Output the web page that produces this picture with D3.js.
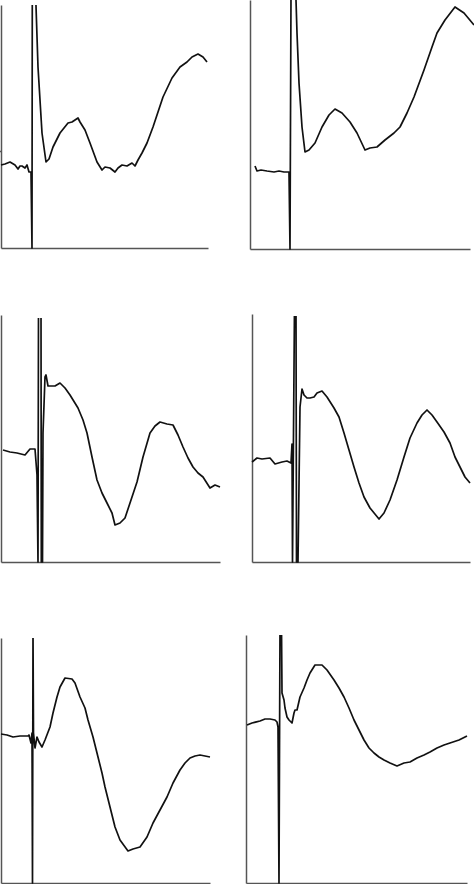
<!DOCTYPE html>
<head>
  <meta charset="utf-8">
  <script src="https://cdnjs.cloudflare.com/ajax/libs/d3/7.8.5/d3.min.js"></script>
</head>

<style>
body {
  margin: 0;
  background-color: #fff;
}
svg {
  display: block;
}
.trace {
  fill: none;
  stroke: #111;
  stroke-width: 1.7px;
  stroke-linejoin: round;
}
.axis path, .axis line {
  stroke: #555;
  stroke-width: 1.5px;
}
</style>

<body>
  <svg id='chart' width='474' height='884'></svg>
</body>

<script>

// time in ms (stimulus at 0), amplitude in uV (pre-stimulus baseline at 0)
var trace1 = [[-31,0.1],[-27,0.2],[-22,0.4],[-17,0.1],[-14,-0.3],[-12,0],[-10,0],[-7,-0.2],[-5,0.1],[-3,-0.6],[-1,-0.6],
  [0,-8.2],[0.3,17.5],[3.5,17.5],[4,16.0],[6,9.9],[10,3.3],[14,0.4],[17,0.7],[21,1.9],[28,3.3],[36,4.3],[40,4.4],[46,4.8],
  [48,4.4],[53,3.6],[58,2.3],[65,0.4],[70,-0.4],[73,-0.1],[78,-0.2],[83,-0.6],[86,-0.2],[90,0.1],[95,0],[100,0.3],
  [103,0],[106,0.6],[110,1.3],[115,2.3],[121,3.9],[131,6.9],[140,8.8],[148,9.9],[155,10.4],[160,10.9],[166,11.2],[171,10.9],[175,10.4]];

var trace2 = [[-35,0.4],[-33,-0.1],[-29,0],[-23,-0.1],[-16,-0.2],[-11,-0.1],[-6,-0.2],[-1,-0.2],
  [0,-7.9],[1,17.5],[6,17.5],[6,17.0],[7,13.7],[9,8.7],[12,4.3],[15,1.8],[19,2.0],[25,2.7],[32,4.3],[39,5.5],[45,6.1],
  [52,5.7],[60,4.8],[67,3.7],[75,2.0],[80,2.2],[87,2.3],[95,3.0],[104,3.7],[110,4.3],[117,5.7],[124,7.3],[134,10.0],
  [142,12.3],[147,13.7],[155,15.0],[165,16.3],[174,15.7],[184,14.5]];

var trace3 = [[-35,0.1],[-28,-0.1],[-21,-0.2],[-13,-0.4],[-8,0.2],[-3,0.2],[-1,-2.4],
  [0,-11.1],[0.5,14.5],[3,14.5],[3.3,-11.1],[4.5,-11.1],[5,1.8],[7,7.4],[8,7.6],[10,6.5],[17,6.5],[22,6.8],[27,6.3],
  [32,5.6],[40,4.3],[45,3.1],[49,1.8],[54,-0.6],[59,-2.9],[64,-4.2],[69,-5.2],[74,-6.2],[77,-7.4],[82,-7.2],[87,-6.7],
  [92,-5.2],[99,-3.1],[105,-0.6],[112,1.8],[117,2.5],[122,2.9],[129,2.7],[135,2.6],[140,1.6],[145,0.4],[150,-0.7],
  [155,-1.6],[160,-2.2],[165,-2.6],[172,-3.7],[177,-3.4],[182,-3.6]];

var trace4 = [[-40,-0.2],[-35,0.2],[-30,0.1],[-22,0.2],[-17,-0.4],[-10,-0.2],[-5,-0.1],[-1,-0.3],
  [0,1.6],[0.5,-10.2],[2.5,15.5],[4,15.5],[4.5,-10.2],[6,-10.2],[8,5.3],[10,7.1],[12,6.5],[15,6.2],[18,6.2],[22,6.3],
  [25,6.7],[30,6.9],[35,6.3],[42,5.2],[47,4.3],[52,2.7],[57,1.0],[62,-0.7],[67,-2.3],[72,-3.7],[78,-4.8],[87,-5.9],
  [92,-5.3],[98,-4.0],[105,-2.0],[112,0.3],[118,2.2],[125,3.7],[130,4.5],[135,5.0],[140,4.5],[145,3.8],[152,2.8],
  [158,1.7],[163,0.3],[168,-0.7],[173,-1.7],[178,-2.3]];

var trace5 = [[-32,0.2],[-26,0.1],[-20,-0.1],[-13,0],[-5,0],[-4,0.1],[-2,-0.7],[-1,0.3],
  [-0.5,-14.7],[0,10.5],[0.5,0.3],[2,-1.2],[4,-0.1],[6,-0.6],[9,-1.1],[12,-0.4],[17,0.9],[20,2.3],[24,3.9],[27,4.9],
  [32,5.8],[39,5.7],[42,5.3],[47,3.9],[52,2.8],[55,1.6],[60,-0.1],[64,-1.7],[69,-3.7],[72,-5.1],[77,-7.1],[82,-9.1],
  [87,-10.4],[95,-11.5],[100,-11.3],[107,-11.1],[114,-10.1],[120,-8.7],[127,-7.4],[134,-6.1],[140,-4.7],[147,-3.4],
  [152,-2.7],[157,-2.2],[162,-2.0],[167,-1.9],[172,-2.0],[177,-2.1]];

var trace6 = [[-32,-0.3],[-27,-0.1],[-19,0.1],[-14,0.3],[-9,0.3],[-4,0.2],[-2,0],[-1,-0.5],
  [0,-16.1],[1,9.5],[2.5,9.5],[3,2.9],[5,2.2],[6,1.4],[8,0.5],[10,0.2],[13,-0.1],[15,0.9],[16,1.2],[18,1.2],[21,2.5],
  [25,3.4],[28,4.2],[31,4.9],[36,5.7],[43,5.7],[48,5.2],[55,4.2],[60,3.4],[65,2.5],[70,1.4],[75,0.2],[80,-0.8],
  [85,-1.8],[90,-2.6],[95,-3.1],[100,-3.5],[105,-3.8],[111,-4.1],[118,-4.4],[125,-4.1],[131,-4.0],[138,-3.6],
  [145,-3.3],[151,-3.0],[158,-2.6],[165,-2.3],[171,-2.1],[180,-1.8],[188,-1.4]];

var timeDomains = [[-31,176],[-40,180],[-37,182],[-40,178],[-32,177],[-33,188]];
var ampDomains = [[-8.2,16.1],[-7.9,17.0],[-11.1,13.6],[-10.2,14.6],[-14.7,9.8],[-16.1,8.7]];
var ampTicks = [[1.5],[],[],[],[],[]];

var traces = [trace1, trace2, trace3, trace4, trace5, trace6];

// pixel boxes of the six small panels
var boxes = [
  {left: 1,   right: 208, top: 5,   bottom: 248, clipTop: 5},
  {left: 250, right: 470, top: 0,   bottom: 249, clipTop: 0},
  {left: 1,   right: 220, top: 315, bottom: 562, clipTop: 318},
  {left: 252, right: 470, top: 314, bottom: 562, clipTop: 316},
  {left: 1,   right: 210, top: 638, bottom: 883, clipTop: 638},
  {left: 246, right: 467, top: 635, bottom: 883, clipTop: 635}
];

var svg = d3.select('#chart');

traces.forEach(function(data, i) {
  var b = boxes[i];

  var x = d3.scaleLinear().domain(timeDomains[i]).range([b.left, b.right]);
  var y = d3.scaleLinear().domain(ampDomains[i]).range([b.bottom, b.top]);

  svg.append('clipPath')
      .attr('id', 'clip' + i)
    .append('rect')
      .attr('x', b.left - 10)
      .attr('y', b.clipTop)
      .attr('width', b.right - b.left + 20)
      .attr('height', b.bottom - b.clipTop + 2);

  svg.append('g')
      .attr('class', 'axis')
      .attr('transform', 'translate(0,' + b.bottom + ')')
      .call(d3.axisBottom(x).tickValues([]).tickSizeOuter(0))
      .call(function(g) { g.selectAll('text').remove(); });

  svg.append('g')
      .attr('class', 'axis')
      .attr('transform', 'translate(' + b.left + ',0)')
      .call(d3.axisLeft(y).tickValues(ampTicks[i]).tickSize(3).tickSizeOuter(0))
      .call(function(g) { g.selectAll('text').remove(); });

  var line = d3.line()
      .x(function(d) { return x(d[0]); })
      .y(function(d) { return y(d[1]); });

  svg.append('path')
      .datum(data)
      .attr('class', 'trace')
      .attr('clip-path', 'url(#clip' + i + ')')
      .attr('d', line);
});

</script>
